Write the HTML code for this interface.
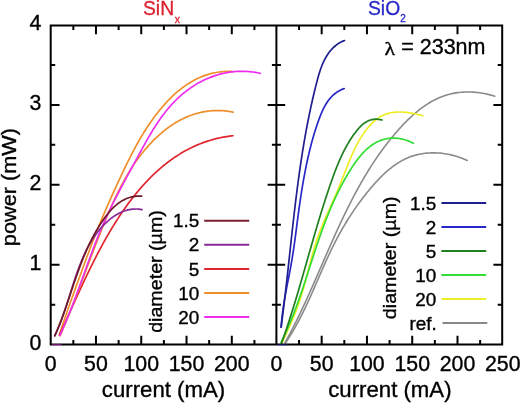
<!DOCTYPE html>
<html><head><meta charset="utf-8"><title>power vs current</title>
<style>html,body{margin:0;padding:0;background:#fff;width:520px;height:403px;overflow:hidden}svg{display:block}</style>
</head><body>
<svg width="520" height="403" viewBox="0 0 520 403">
<rect width="520" height="403" fill="#fff"/>
<g fill="none" stroke-linecap="round" stroke-linejoin="round">
<path d="M59.19 335.38 L59.64 333.95 L60.1 332.52 L60.56 331.09 L61.03 329.66 L61.49 328.23 L61.96 326.8 L62.44 325.37 L62.91 323.94 L63.39 322.52 L63.87 321.09 L64.36 319.66 L64.84 318.24 L65.33 316.81 L65.82 315.39 L66.31 313.96 L66.81 312.54 L67.3 311.11 L67.8 309.69 L68.3 308.26 L68.8 306.84 L69.31 305.41 L69.81 303.99 L70.32 302.57 L70.83 301.14 L71.34 299.72 L71.85 298.3 L72.36 296.87 L72.87 295.45 L73.39 294.03 L73.9 292.61 L74.42 291.18 L74.93 289.76 L75.45 288.34 L75.97 286.91 L76.48 285.49 L77 284.07 L77.52 282.65 L78.04 281.22 L78.56 279.8 L79.08 278.38 L79.6 276.95 L80.12 275.53 L80.64 274.11 L81.16 272.68 L81.68 271.26 L82.19 269.84 L82.71 268.41 L83.23 266.99 L83.75 265.56 L84.27 264.14 L84.8 262.72 L85.32 261.3 L85.84 259.87 L86.36 258.45 L86.89 257.03 L87.42 255.61 L87.94 254.19 L88.47 252.77 L89 251.35 L89.53 249.94 L90.06 248.52 L90.6 247.1 L91.14 245.69 L91.67 244.28 L92.21 242.86 L92.76 241.45 L93.3 240.04 L93.85 238.64 L94.4 237.23 L94.95 235.82 L95.5 234.42 L96.06 233.02 L96.62 231.62 L97.18 230.22 L97.75 228.82 L98.32 227.42 L98.89 226.02 L99.46 224.63 L100.03 223.24 L100.61 221.84 L101.19 220.45 L101.77 219.06 L102.36 217.67 L102.94 216.29 L103.53 214.9 L104.12 213.51 L104.71 212.13 L105.31 210.75 L105.91 209.36 L106.51 207.98 L107.11 206.6 L107.71 205.22 L108.32 203.84 L108.93 202.46 L109.54 201.08 L110.15 199.7 L110.76 198.32 L111.38 196.95 L112 195.57 L112.62 194.19 L113.24 192.82 L113.86 191.44 L114.49 190.07 L115.12 188.69 L115.74 187.32 L116.38 185.94 L117.01 184.57 L117.64 183.19 L118.28 181.82 L118.92 180.45 L119.56 179.07 L120.2 177.7 L120.84 176.32 L121.48 174.95 L122.13 173.58 L122.78 172.21 L123.43 170.83 L124.09 169.46 L124.74 168.09 L125.4 166.73 L126.07 165.36 L126.73 163.99 L127.4 162.63 L128.08 161.27 L128.75 159.91 L129.44 158.55 L130.12 157.19 L130.81 155.84 L131.51 154.49 L132.2 153.14 L132.91 151.79 L133.62 150.45 L134.33 149.11 L135.05 147.77 L135.78 146.44 L136.51 145.11 L137.24 143.78 L137.98 142.46 L138.73 141.14 L139.49 139.83 L140.25 138.52 L141.01 137.21 L141.79 135.91 L142.57 134.61 L143.36 133.32 L144.15 132.03 L144.95 130.75 L145.76 129.47 L146.58 128.2 L147.41 126.93 L148.24 125.67 L149.08 124.41 L149.94 123.17 L150.79 121.92 L151.66 120.68 L152.54 119.45 L153.43 118.23 L154.32 117.01 L155.22 115.8 L156.14 114.59 L157.06 113.4 L158 112.21 L158.94 111.02 L159.89 109.85 L160.86 108.68 L161.83 107.52 L162.82 106.37 L163.81 105.22 L164.82 104.09 L165.83 102.97 L166.86 101.86 L167.9 100.75 L168.95 99.67 L170.01 98.59 L171.08 97.53 L172.17 96.48 L173.26 95.44 L174.37 94.42 L175.48 93.41 L176.61 92.42 L177.75 91.44 L178.91 90.48 L180.07 89.54 L181.25 88.62 L182.43 87.71 L183.63 86.82 L184.84 85.95 L186.07 85.1 L187.3 84.27 L188.55 83.47 L189.81 82.68 L191.09 81.91 L192.37 81.17 L193.67 80.45 L194.98 79.75 L196.31 79.08 L197.64 78.43 L198.99 77.81 L200.36 77.21 L201.73 76.64 L203.12 76.1 L204.52 75.58 L205.94 75.09 L207.37 74.63 L208.81 74.19 L210.27 73.79 L211.74 73.41 L213.22 73.07 L214.71 72.75 L216.22 72.47 L217.74 72.22 L219.28 72 L220.83 71.81 L222.39 71.65 L223.96 71.53 L225.55 71.45 L227.15 71.39 L228.77 71.38 L230.4 71.4 L232.04 71.45" stroke="#ee8f2c" stroke-width="1.7"/>
<path d="M59.63 334.44 L60.23 333.16 L60.83 331.87 L61.42 330.58 L62.02 329.29 L62.62 327.99 L63.22 326.68 L63.82 325.37 L64.42 324.06 L65.02 322.75 L65.62 321.43 L66.22 320.1 L66.82 318.78 L67.43 317.45 L68.03 316.12 L68.64 314.78 L69.24 313.44 L69.85 312.1 L70.46 310.76 L71.07 309.41 L71.68 308.06 L72.29 306.71 L72.91 305.35 L73.52 304 L74.14 302.64 L74.76 301.28 L75.38 299.91 L76 298.55 L76.62 297.18 L77.25 295.81 L77.87 294.45 L78.5 293.07 L79.13 291.7 L79.77 290.33 L80.4 288.96 L81.04 287.58 L81.68 286.2 L82.32 284.83 L82.97 283.45 L83.61 282.07 L84.26 280.69 L84.91 279.31 L85.57 277.93 L86.23 276.55 L86.89 275.18 L87.55 273.8 L88.21 272.42 L88.88 271.04 L89.55 269.66 L90.23 268.28 L90.91 266.9 L91.59 265.53 L92.27 264.15 L92.96 262.78 L93.65 261.4 L94.34 260.03 L95.04 258.66 L95.74 257.29 L96.45 255.92 L97.15 254.55 L97.87 253.19 L98.58 251.82 L99.3 250.46 L100.03 249.1 L100.75 247.75 L101.49 246.39 L102.22 245.04 L102.96 243.69 L103.7 242.34 L104.45 240.99 L105.21 239.65 L105.96 238.31 L106.72 236.97 L107.49 235.64 L108.26 234.31 L109.04 232.98 L109.82 231.65 L110.6 230.33 L111.39 229.02 L112.18 227.7 L112.98 226.39 L113.79 225.09 L114.6 223.78 L115.41 222.49 L116.23 221.19 L117.06 219.9 L117.89 218.62 L118.72 217.34 L119.56 216.06 L120.41 214.79 L121.26 213.52 L122.12 212.26 L122.98 211.01 L123.85 209.75 L124.73 208.51 L125.61 207.27 L126.49 206.03 L127.39 204.8 L128.28 203.58 L129.19 202.36 L130.1 201.15 L131.02 199.94 L131.94 198.74 L132.87 197.55 L133.81 196.36 L134.75 195.18 L135.7 194 L136.65 192.84 L137.62 191.68 L138.58 190.52 L139.56 189.37 L140.54 188.23 L141.53 187.1 L142.53 185.97 L143.53 184.86 L144.54 183.75 L145.56 182.64 L146.59 181.55 L147.62 180.46 L148.66 179.38 L149.7 178.32 L150.76 177.25 L151.82 176.2 L152.89 175.16 L153.97 174.13 L155.05 173.1 L156.14 172.09 L157.24 171.09 L158.35 170.09 L159.47 169.11 L160.59 168.13 L161.72 167.17 L162.86 166.22 L164.01 165.28 L165.16 164.35 L166.33 163.43 L167.5 162.52 L168.68 161.62 L169.87 160.74 L171.07 159.86 L172.27 159 L173.49 158.15 L174.71 157.32 L175.94 156.49 L177.18 155.68 L178.43 154.88 L179.69 154.1 L180.96 153.32 L182.23 152.56 L183.52 151.82 L184.81 151.09 L186.12 150.37 L187.43 149.67 L188.75 148.98 L190.08 148.3 L191.42 147.64 L192.77 146.99 L194.13 146.36 L195.5 145.75 L196.88 145.15 L198.27 144.56 L199.67 143.99 L201.07 143.44 L202.49 142.9 L203.92 142.38 L205.36 141.87 L206.8 141.38 L208.26 140.91 L209.73 140.46 L211.21 140.02 L212.7 139.6 L214.19 139.19 L215.7 138.8 L217.22 138.43 L218.75 138.08 L220.29 137.75 L221.84 137.43 L223.4 137.14 L224.98 136.86 L226.56 136.6 L228.15 136.36 L229.76 136.14 L231.37 135.93 L233 135.75" stroke="#e0262e" stroke-width="1.7"/>
<path d="M60.17 335.54 L60.78 334.14 L61.38 332.73 L61.98 331.33 L62.58 329.92 L63.17 328.51 L63.76 327.11 L64.35 325.7 L64.94 324.3 L65.52 322.89 L66.1 321.49 L66.68 320.08 L67.25 318.67 L67.82 317.27 L68.39 315.86 L68.96 314.46 L69.53 313.05 L70.09 311.64 L70.65 310.24 L71.21 308.83 L71.76 307.43 L72.32 306.02 L72.87 304.61 L73.42 303.21 L73.97 301.8 L74.52 300.39 L75.06 298.99 L75.61 297.58 L76.15 296.18 L76.69 294.77 L77.23 293.36 L77.77 291.96 L78.31 290.55 L78.84 289.15 L79.38 287.74 L79.91 286.33 L80.45 284.93 L80.98 283.52 L81.51 282.11 L82.04 280.71 L82.58 279.3 L83.11 277.9 L83.64 276.49 L84.17 275.08 L84.7 273.68 L85.23 272.27 L85.76 270.87 L86.29 269.46 L86.82 268.05 L87.35 266.65 L87.88 265.24 L88.41 263.84 L88.94 262.43 L89.47 261.02 L90 259.62 L90.54 258.21 L91.07 256.81 L91.6 255.4 L92.14 253.99 L92.67 252.59 L93.21 251.18 L93.75 249.78 L94.29 248.37 L94.83 246.97 L95.37 245.56 L95.91 244.15 L96.46 242.75 L97.01 241.34 L97.55 239.94 L98.1 238.53 L98.65 237.13 L99.21 235.72 L99.76 234.32 L100.32 232.91 L100.88 231.51 L101.44 230.1 L102 228.69 L102.57 227.29 L103.14 225.88 L103.71 224.48 L104.28 223.07 L104.86 221.67 L105.43 220.27 L106.02 218.86 L106.6 217.46 L107.19 216.06 L107.78 214.66 L108.38 213.26 L108.98 211.86 L109.58 210.46 L110.19 209.06 L110.8 207.67 L111.42 206.28 L112.04 204.89 L112.66 203.5 L113.29 202.12 L113.93 200.73 L114.57 199.35 L115.22 197.98 L115.87 196.6 L116.53 195.23 L117.19 193.86 L117.86 192.5 L118.54 191.14 L119.22 189.78 L119.91 188.42 L120.61 187.07 L121.31 185.73 L122.02 184.39 L122.74 183.05 L123.47 181.72 L124.2 180.39 L124.94 179.07 L125.69 177.75 L126.44 176.44 L127.21 175.13 L127.98 173.83 L128.76 172.53 L129.55 171.24 L130.35 169.95 L131.16 168.68 L131.97 167.4 L132.8 166.14 L133.64 164.88 L134.48 163.62 L135.34 162.38 L136.2 161.14 L137.08 159.9 L137.96 158.68 L138.86 157.46 L139.77 156.25 L140.68 155.05 L141.61 153.85 L142.55 152.66 L143.5 151.48 L144.46 150.31 L145.44 149.15 L146.42 148 L147.42 146.85 L148.42 145.72 L149.44 144.6 L150.47 143.49 L151.51 142.38 L152.56 141.29 L153.62 140.22 L154.7 139.15 L155.78 138.1 L156.88 137.06 L157.99 136.03 L159.1 135.02 L160.23 134.02 L161.37 133.04 L162.52 132.07 L163.68 131.12 L164.85 130.19 L166.03 129.27 L167.23 128.36 L168.43 127.48 L169.65 126.61 L170.87 125.76 L172.11 124.93 L173.35 124.12 L174.61 123.33 L175.87 122.55 L177.15 121.8 L178.44 121.07 L179.74 120.36 L181.05 119.67 L182.36 119 L183.69 118.35 L185.03 117.73 L186.38 117.13 L187.74 116.55 L189.11 116 L190.49 115.47 L191.88 114.96 L193.28 114.48 L194.69 114.03 L196.11 113.6 L197.54 113.2 L198.98 112.82 L200.43 112.47 L201.89 112.15 L203.36 111.86 L204.84 111.59 L206.33 111.36 L207.83 111.15 L209.34 110.97 L210.86 110.82 L212.38 110.71 L213.92 110.62 L215.47 110.56 L217.03 110.54 L218.59 110.55 L220.17 110.59 L221.75 110.66 L223.35 110.77 L224.95 110.9 L226.57 111.08 L228.19 111.29 L229.82 111.53 L231.46 111.81 L233.11 112.12" stroke="#ee8f2c" stroke-width="1.7"/>
<path d="M59.82 335.43 L60.46 334.07 L61.09 332.7 L61.71 331.34 L62.33 329.97 L62.94 328.6 L63.55 327.22 L64.15 325.85 L64.74 324.47 L65.34 323.08 L65.92 321.7 L66.5 320.31 L67.08 318.92 L67.66 317.53 L68.23 316.14 L68.79 314.74 L69.35 313.34 L69.91 311.94 L70.47 310.54 L71.02 309.14 L71.56 307.73 L72.11 306.32 L72.65 304.92 L73.19 303.51 L73.73 302.09 L74.26 300.68 L74.79 299.27 L75.32 297.85 L75.84 296.43 L76.37 295.02 L76.89 293.6 L77.41 292.18 L77.93 290.76 L78.45 289.34 L78.96 287.92 L79.48 286.49 L79.99 285.07 L80.51 283.65 L81.02 282.22 L81.53 280.8 L82.04 279.37 L82.55 277.95 L83.06 276.53 L83.57 275.1 L84.09 273.68 L84.6 272.25 L85.11 270.83 L85.62 269.4 L86.13 267.98 L86.64 266.56 L87.16 265.13 L87.67 263.71 L88.19 262.29 L88.71 260.87 L89.23 259.45 L89.75 258.03 L90.27 256.61 L90.79 255.2 L91.32 253.78 L91.85 252.36 L92.38 250.95 L92.91 249.54 L93.45 248.13 L93.99 246.72 L94.53 245.31 L95.08 243.91 L95.62 242.5 L96.17 241.1 L96.73 239.7 L97.29 238.3 L97.85 236.9 L98.42 235.51 L98.98 234.11 L99.56 232.72 L100.14 231.34 L100.72 229.95 L101.31 228.57 L101.9 227.19 L102.5 225.81 L103.1 224.43 L103.7 223.06 L104.32 221.69 L104.93 220.32 L105.55 218.95 L106.18 217.59 L106.81 216.23 L107.45 214.87 L108.09 213.52 L108.73 212.16 L109.38 210.81 L110.03 209.46 L110.68 208.11 L111.34 206.76 L112 205.42 L112.67 204.07 L113.34 202.73 L114.01 201.39 L114.69 200.05 L115.37 198.71 L116.05 197.38 L116.74 196.04 L117.42 194.7 L118.12 193.37 L118.81 192.04 L119.51 190.71 L120.2 189.37 L120.9 188.04 L121.61 186.71 L122.31 185.38 L123.02 184.05 L123.73 182.72 L124.44 181.39 L125.15 180.07 L125.87 178.74 L126.58 177.41 L127.3 176.08 L128.02 174.75 L128.74 173.42 L129.46 172.09 L130.18 170.76 L130.9 169.43 L131.62 168.1 L132.35 166.77 L133.07 165.44 L133.79 164.1 L134.52 162.77 L135.24 161.44 L135.97 160.1 L136.69 158.76 L137.42 157.43 L138.14 156.09 L138.87 154.75 L139.59 153.41 L140.32 152.07 L141.05 150.73 L141.78 149.39 L142.51 148.05 L143.25 146.72 L143.99 145.38 L144.73 144.05 L145.47 142.72 L146.22 141.39 L146.97 140.07 L147.73 138.74 L148.49 137.43 L149.25 136.11 L150.02 134.8 L150.8 133.49 L151.58 132.19 L152.37 130.9 L153.16 129.6 L153.97 128.32 L154.77 127.04 L155.59 125.77 L156.41 124.5 L157.25 123.24 L158.09 121.99 L158.94 120.74 L159.79 119.51 L160.66 118.28 L161.54 117.06 L162.42 115.84 L163.32 114.64 L164.23 113.45 L165.15 112.27 L166.08 111.09 L167.02 109.93 L167.97 108.78 L168.94 107.64 L169.91 106.51 L170.9 105.39 L171.91 104.28 L172.93 103.19 L173.96 102.1 L175 101.03 L176.06 99.98 L177.13 98.94 L178.22 97.91 L179.32 96.89 L180.44 95.89 L181.57 94.91 L182.71 93.94 L183.86 92.98 L185.03 92.04 L186.21 91.12 L187.41 90.22 L188.61 89.33 L189.83 88.45 L191.07 87.6 L192.31 86.76 L193.56 85.95 L194.83 85.15 L196.11 84.37 L197.4 83.6 L198.7 82.86 L200.01 82.14 L201.34 81.44 L202.67 80.76 L204.02 80.1 L205.37 79.46 L206.74 78.84 L208.11 78.25 L209.5 77.68 L210.89 77.13 L212.3 76.6 L213.71 76.09 L215.13 75.61 L216.57 75.16 L218.01 74.73 L219.46 74.32 L220.91 73.94 L222.38 73.58 L223.85 73.24 L225.32 72.94 L226.81 72.65 L228.3 72.4 L229.79 72.17 L231.29 71.96 L232.8 71.79 L234.3 71.64 L235.82 71.51 L237.33 71.41 L238.85 71.34 L240.37 71.3 L241.9 71.29 L243.42 71.3 L244.95 71.35 L246.48 71.42 L248.01 71.52 L249.54 71.65 L251.07 71.8 L252.6 71.99 L254.13 72.21 L255.65 72.46 L257.18 72.73 L258.7 73.04 L260.22 73.38" stroke="#ee2eee" stroke-width="1.7"/>
<path d="M54.78 335.64 L55.4 334.38 L56.01 333.1 L56.61 331.81 L57.19 330.5 L57.77 329.19 L58.34 327.86 L58.9 326.52 L59.45 325.17 L59.99 323.82 L60.53 322.45 L61.05 321.07 L61.57 319.68 L62.09 318.29 L62.59 316.89 L63.09 315.48 L63.59 314.06 L64.08 312.63 L64.57 311.2 L65.05 309.76 L65.53 308.32 L66 306.87 L66.47 305.41 L66.94 303.95 L67.41 302.49 L67.88 301.02 L68.34 299.55 L68.8 298.08 L69.27 296.6 L69.73 295.12 L70.19 293.64 L70.66 292.16 L71.12 290.67 L71.59 289.19 L72.06 287.7 L72.53 286.22 L73.01 284.73 L73.49 283.25 L73.97 281.77 L74.45 280.29 L74.94 278.81 L75.44 277.33 L75.94 275.86 L76.45 274.39 L76.96 272.92 L77.48 271.46 L78 270 L78.54 268.54 L79.08 267.09 L79.63 265.65 L80.19 264.21 L80.75 262.78 L81.33 261.35 L81.92 259.93 L82.51 258.52 L83.12 257.12 L83.74 255.73 L84.37 254.34 L85.01 252.96 L85.67 251.59 L86.33 250.24 L87.02 248.89 L87.71 247.55 L88.42 246.22 L89.14 244.91 L89.88 243.61 L90.63 242.31 L91.4 241.04 L92.19 239.77 L92.99 238.52 L93.8 237.28 L94.64 236.05 L95.49 234.84 L96.37 233.65 L97.26 232.47 L98.16 231.3 L99.09 230.15 L100.04 229.02 L101.01 227.9 L102 226.8 L103.01 225.72 L104.04 224.66 L105.09 223.62 L106.17 222.59 L107.27 221.58 L108.39 220.6 L109.53 219.63 L110.7 218.69 L111.89 217.78 L113.1 216.9 L114.34 216.06 L115.6 215.24 L116.88 214.47 L118.18 213.74 L119.51 213.05 L120.85 212.4 L122.22 211.8 L123.62 211.26 L125.03 210.76 L126.47 210.32 L127.93 209.94 L129.41 209.62 L130.91 209.37 L132.43 209.18 L133.98 209.05 L135.55 209 L137.14 209.02 L138.75 209.12 L140.38 209.29 L142.04 209.55" stroke="#8a2a9a" stroke-width="1.7"/>
<path d="M54.74 335.8 L55.33 334.46 L55.92 333.12 L56.51 331.76 L57.08 330.41 L57.65 329.04 L58.22 327.67 L58.77 326.3 L59.32 324.91 L59.87 323.53 L60.41 322.13 L60.95 320.74 L61.48 319.33 L62 317.93 L62.53 316.52 L63.04 315.1 L63.56 313.68 L64.07 312.26 L64.58 310.83 L65.08 309.4 L65.59 307.97 L66.09 306.53 L66.58 305.09 L67.08 303.65 L67.57 302.2 L68.07 300.76 L68.56 299.31 L69.05 297.86 L69.54 296.4 L70.03 294.95 L70.52 293.49 L71.01 292.04 L71.5 290.58 L72 289.12 L72.49 287.67 L72.98 286.21 L73.48 284.75 L73.97 283.29 L74.47 281.83 L74.98 280.37 L75.48 278.92 L75.99 277.46 L76.5 276.01 L77.01 274.55 L77.53 273.1 L78.05 271.65 L78.57 270.2 L79.1 268.76 L79.64 267.31 L80.18 265.87 L80.72 264.43 L81.27 263 L81.83 261.57 L82.39 260.14 L82.95 258.71 L83.53 257.29 L84.11 255.87 L84.7 254.46 L85.29 253.05 L85.9 251.64 L86.51 250.24 L87.12 248.84 L87.75 247.45 L88.39 246.07 L89.03 244.69 L89.68 243.31 L90.35 241.94 L91.02 240.58 L91.7 239.23 L92.39 237.88 L93.1 236.53 L93.81 235.2 L94.53 233.87 L95.27 232.55 L96.02 231.23 L96.78 229.92 L97.55 228.62 L98.33 227.33 L99.12 226.05 L99.93 224.78 L100.75 223.51 L101.59 222.25 L102.44 221.01 L103.3 219.77 L104.17 218.54 L105.06 217.32 L105.97 216.11 L106.89 214.91 L107.83 213.73 L108.78 212.57 L109.76 211.43 L110.75 210.3 L111.77 209.21 L112.81 208.14 L113.87 207.1 L114.96 206.09 L116.07 205.12 L117.21 204.18 L118.38 203.28 L119.57 202.42 L120.8 201.61 L122.05 200.84 L123.34 200.12 L124.66 199.44 L126.02 198.83 L127.41 198.26 L128.83 197.76 L130.29 197.31 L131.8 196.93 L133.34 196.61 L134.92 196.36 L136.54 196.18 L138.21 196.07 L139.91 196.03 L141.67 196.07" stroke="#6e1a28" stroke-width="1.7"/>
<path d="M285.45 343 L286.3 341.74 L287.14 340.47 L287.97 339.2 L288.8 337.92 L289.61 336.64 L290.41 335.35 L291.2 334.06 L291.98 332.77 L292.76 331.47 L293.52 330.16 L294.28 328.85 L295.02 327.54 L295.76 326.22 L296.5 324.9 L297.22 323.58 L297.94 322.25 L298.65 320.92 L299.35 319.58 L300.04 318.24 L300.73 316.9 L301.42 315.56 L302.09 314.21 L302.76 312.86 L303.43 311.5 L304.09 310.15 L304.75 308.79 L305.4 307.43 L306.04 306.06 L306.68 304.7 L307.32 303.33 L307.95 301.96 L308.58 300.59 L309.21 299.21 L309.83 297.84 L310.45 296.46 L311.06 295.08 L311.68 293.71 L312.29 292.33 L312.9 290.95 L313.51 289.56 L314.11 288.18 L314.72 286.8 L315.32 285.42 L315.92 284.03 L316.52 282.65 L317.13 281.26 L317.73 279.88 L318.33 278.5 L318.93 277.11 L319.53 275.73 L320.13 274.35 L320.73 272.96 L321.34 271.58 L321.94 270.2 L322.55 268.82 L323.16 267.44 L323.77 266.07 L324.38 264.69 L325 263.32 L325.61 261.94 L326.23 260.57 L326.86 259.2 L327.49 257.83 L328.12 256.47 L328.75 255.11 L329.39 253.74 L330.03 252.39 L330.68 251.03 L331.33 249.68 L331.99 248.32 L332.65 246.98 L333.32 245.63 L334 244.29 L334.68 242.95 L335.36 241.62 L336.05 240.28 L336.75 238.95 L337.45 237.63 L338.16 236.31 L338.88 234.99 L339.6 233.67 L340.33 232.36 L341.06 231.05 L341.8 229.74 L342.55 228.44 L343.31 227.14 L344.07 225.85 L344.83 224.56 L345.61 223.27 L346.39 221.99 L347.17 220.71 L347.96 219.43 L348.77 218.16 L349.57 216.89 L350.39 215.62 L351.21 214.36 L352.03 213.1 L352.87 211.85 L353.71 210.6 L354.56 209.35 L355.42 208.11 L356.28 206.87 L357.15 205.63 L358.03 204.4 L358.92 203.18 L359.81 201.96 L360.71 200.74 L361.62 199.52 L362.54 198.31 L363.46 197.11 L364.4 195.91 L365.34 194.71 L366.28 193.52 L367.24 192.33 L368.2 191.14 L369.18 189.96 L370.16 188.79 L371.15 187.62 L372.14 186.45 L373.15 185.29 L374.16 184.14 L375.19 183 L376.22 181.86 L377.26 180.74 L378.31 179.62 L379.37 178.52 L380.44 177.43 L381.52 176.35 L382.61 175.29 L383.71 174.24 L384.82 173.21 L385.94 172.19 L387.08 171.19 L388.22 170.21 L389.37 169.24 L390.54 168.3 L391.72 167.38 L392.91 166.48 L394.11 165.6 L395.32 164.75 L396.55 163.91 L397.78 163.11 L399.03 162.33 L400.3 161.57 L401.57 160.85 L402.86 160.15 L404.16 159.48 L405.48 158.84 L406.81 158.23 L408.15 157.66 L409.51 157.11 L410.88 156.6 L412.26 156.13 L413.66 155.68 L415.07 155.27 L416.49 154.89 L417.92 154.55 L419.36 154.23 L420.81 153.95 L422.27 153.7 L423.74 153.49 L425.22 153.3 L426.7 153.15 L428.2 153.03 L429.69 152.94 L431.19 152.88 L432.7 152.85 L434.21 152.85 L435.72 152.89 L437.24 152.95 L438.76 153.04 L440.28 153.17 L441.8 153.32 L443.32 153.51 L444.84 153.72 L446.36 153.97 L447.88 154.24 L449.39 154.55 L450.9 154.88 L452.41 155.24 L453.91 155.63 L455.41 156.05 L456.91 156.5 L458.39 156.98 L459.88 157.48 L461.35 158.02 L462.81 158.58 L464.27 159.17 L465.72 159.78 L467.15 160.43" stroke="#8a8a8a" stroke-width="1.6"/>
<path d="M285.01 342.77 L285.73 341.47 L286.45 340.16 L287.16 338.85 L287.87 337.54 L288.57 336.23 L289.27 334.91 L289.97 333.59 L290.66 332.27 L291.35 330.95 L292.03 329.62 L292.72 328.29 L293.4 326.96 L294.07 325.62 L294.74 324.28 L295.41 322.94 L296.08 321.6 L296.74 320.26 L297.4 318.91 L298.06 317.56 L298.71 316.21 L299.36 314.86 L300.01 313.51 L300.66 312.15 L301.3 310.79 L301.95 309.43 L302.59 308.07 L303.22 306.71 L303.86 305.34 L304.49 303.98 L305.12 302.61 L305.75 301.24 L306.38 299.87 L307.01 298.49 L307.63 297.12 L308.25 295.74 L308.87 294.37 L309.49 292.99 L310.11 291.61 L310.73 290.23 L311.34 288.85 L311.96 287.46 L312.57 286.08 L313.18 284.7 L313.79 283.31 L314.4 281.92 L315.01 280.54 L315.62 279.15 L316.23 277.76 L316.84 276.37 L317.44 274.98 L318.05 273.59 L318.65 272.2 L319.26 270.81 L319.87 269.42 L320.47 268.03 L321.08 266.64 L321.68 265.25 L322.29 263.85 L322.89 262.46 L323.5 261.07 L324.11 259.68 L324.71 258.28 L325.32 256.89 L325.93 255.5 L326.54 254.11 L327.14 252.72 L327.75 251.32 L328.36 249.93 L328.98 248.54 L329.59 247.15 L330.2 245.76 L330.82 244.37 L331.43 242.98 L332.05 241.6 L332.67 240.21 L333.29 238.82 L333.91 237.44 L334.53 236.05 L335.16 234.67 L335.78 233.28 L336.41 231.9 L337.04 230.52 L337.67 229.14 L338.31 227.76 L338.94 226.38 L339.58 225.01 L340.22 223.63 L340.87 222.26 L341.51 220.89 L342.16 219.52 L342.81 218.15 L343.46 216.78 L344.12 215.41 L344.78 214.05 L345.44 212.69 L346.1 211.32 L346.77 209.96 L347.44 208.61 L348.11 207.25 L348.79 205.9 L349.47 204.55 L350.15 203.2 L350.84 201.85 L351.53 200.5 L352.23 199.16 L352.92 197.82 L353.62 196.48 L354.33 195.14 L355.04 193.81 L355.75 192.48 L356.47 191.15 L357.19 189.82 L357.92 188.5 L358.65 187.18 L359.38 185.86 L360.12 184.54 L360.86 183.23 L361.61 181.92 L362.36 180.61 L363.12 179.31 L363.88 178.01 L364.65 176.71 L365.42 175.42 L366.2 174.12 L366.98 172.84 L367.76 171.55 L368.56 170.27 L369.35 168.99 L370.16 167.71 L370.97 166.44 L371.78 165.17 L372.6 163.91 L373.42 162.65 L374.25 161.39 L375.09 160.14 L375.93 158.89 L376.78 157.64 L377.64 156.4 L378.5 155.16 L379.37 153.93 L380.24 152.7 L381.12 151.47 L382.01 150.25 L382.9 149.03 L383.8 147.82 L384.7 146.61 L385.62 145.4 L386.54 144.2 L387.46 143 L388.4 141.81 L389.34 140.63 L390.28 139.44 L391.24 138.26 L392.2 137.09 L393.17 135.92 L394.15 134.76 L395.13 133.6 L396.12 132.44 L397.12 131.3 L398.13 130.15 L399.14 129.01 L400.17 127.88 L401.2 126.75 L402.24 125.63 L403.28 124.52 L404.34 123.42 L405.4 122.33 L406.48 121.25 L407.56 120.17 L408.65 119.11 L409.75 118.06 L410.85 117.02 L411.97 116 L413.1 114.98 L414.23 113.98 L415.38 113 L416.53 112.03 L417.69 111.08 L418.87 110.14 L420.05 109.22 L421.24 108.31 L422.45 107.43 L423.66 106.56 L424.88 105.71 L426.12 104.89 L427.36 104.08 L428.62 103.29 L429.88 102.53 L431.16 101.79 L432.45 101.07 L433.75 100.37 L435.06 99.7 L436.38 99.05 L437.71 98.42 L439.05 97.83 L440.41 97.26 L441.77 96.71 L443.15 96.19 L444.54 95.71 L445.94 95.24 L447.36 94.81 L448.78 94.41 L450.22 94.04 L451.67 93.7 L453.13 93.39 L454.61 93.12 L456.09 92.87 L457.59 92.65 L459.09 92.47 L460.6 92.31 L462.12 92.19 L463.65 92.09 L465.19 92.03 L466.73 91.99 L468.28 91.99 L469.83 92.01 L471.38 92.06 L472.94 92.14 L474.5 92.25 L476.07 92.38 L477.63 92.55 L479.2 92.74 L480.76 92.96 L482.33 93.21 L483.89 93.48 L485.45 93.79 L487.01 94.11 L488.56 94.47 L490.11 94.85 L491.66 95.26 L493.2 95.69 L494.74 96.15" stroke="#8a8a8a" stroke-width="1.6"/>
<path d="M281.99 343 L282.63 341.61 L283.28 340.23 L283.92 338.84 L284.55 337.46 L285.19 336.08 L285.82 334.7 L286.45 333.32 L287.08 331.94 L287.7 330.57 L288.32 329.19 L288.93 327.81 L289.54 326.43 L290.15 325.05 L290.75 323.67 L291.34 322.29 L291.93 320.91 L292.52 319.52 L293.1 318.13 L293.67 316.75 L294.24 315.36 L294.8 313.96 L295.35 312.57 L295.89 311.17 L296.43 309.77 L296.96 308.36 L297.48 306.95 L298 305.54 L298.5 304.12 L299 302.7 L299.49 301.27 L299.97 299.84 L300.44 298.41 L300.9 296.97 L301.35 295.52 L301.79 294.07 L302.23 292.62 L302.66 291.17 L303.08 289.71 L303.5 288.24 L303.91 286.78 L304.31 285.31 L304.71 283.84 L305.11 282.36 L305.5 280.89 L305.89 279.41 L306.28 277.94 L306.66 276.46 L307.05 274.98 L307.43 273.5 L307.81 272.02 L308.19 270.54 L308.57 269.05 L308.95 267.57 L309.33 266.1 L309.71 264.62 L310.09 263.14 L310.48 261.66 L310.87 260.19 L311.26 258.72 L311.66 257.25 L312.06 255.78 L312.46 254.32 L312.88 252.86 L313.29 251.4 L313.71 249.94 L314.14 248.49 L314.58 247.05 L315.02 245.6 L315.47 244.17 L315.93 242.73 L316.4 241.31 L316.87 239.88 L317.36 238.47 L317.86 237.05 L318.36 235.65 L318.88 234.25 L319.4 232.85 L319.93 231.46 L320.47 230.07 L321.02 228.68 L321.57 227.3 L322.13 225.92 L322.69 224.54 L323.27 223.17 L323.84 221.8 L324.42 220.43 L325.01 219.06 L325.6 217.7 L326.19 216.33 L326.79 214.97 L327.39 213.6 L328 212.24 L328.6 210.88 L329.21 209.51 L329.82 208.15 L330.43 206.78 L331.04 205.42 L331.66 204.05 L332.27 202.68 L332.88 201.31 L333.49 199.94 L334.1 198.56 L334.71 197.18 L335.32 195.8 L335.92 194.41 L336.53 193.02 L337.13 191.63 L337.72 190.23 L338.32 188.83 L338.9 187.42 L339.49 186.01 L340.07 184.6 L340.64 183.17 L341.21 181.75 L341.78 180.31 L342.34 178.88 L342.91 177.44 L343.47 176 L344.03 174.56 L344.59 173.11 L345.15 171.67 L345.71 170.23 L346.27 168.78 L346.84 167.34 L347.4 165.9 L347.98 164.46 L348.55 163.03 L349.13 161.59 L349.72 160.17 L350.32 158.74 L350.92 157.32 L351.52 155.91 L352.14 154.51 L352.77 153.11 L353.4 151.72 L354.05 150.33 L354.7 148.96 L355.37 147.6 L356.05 146.24 L356.74 144.9 L357.45 143.56 L358.17 142.24 L358.91 140.94 L359.66 139.64 L360.43 138.36 L361.21 137.09 L362.01 135.84 L362.83 134.6 L363.67 133.38 L364.53 132.17 L365.41 130.98 L366.3 129.81 L367.23 128.66 L368.17 127.53 L369.13 126.41 L370.12 125.32 L371.13 124.24 L372.17 123.2 L373.23 122.17 L374.32 121.18 L375.44 120.23 L376.58 119.31 L377.75 118.44 L378.96 117.61 L380.19 116.84 L381.45 116.11 L382.74 115.44 L384.07 114.84 L385.42 114.29 L386.81 113.81 L388.23 113.39 L389.67 113.02 L391.13 112.72 L392.62 112.47 L394.12 112.28 L395.65 112.13 L397.18 112.04 L398.73 112 L400.29 112.01 L401.85 112.06 L403.42 112.16 L404.99 112.29 L406.55 112.46 L408.11 112.66 L409.67 112.89 L411.21 113.14 L412.74 113.42 L414.25 113.72 L415.74 114.04 L417.21 114.37 L418.65 114.7 L420.06 115.05 L421.45 115.4 L422.79 115.75" stroke="#eded28" stroke-width="1.7"/>
<path d="M281.04 342.37 L281.72 341 L282.4 339.63 L283.06 338.25 L283.72 336.87 L284.37 335.49 L285.01 334.11 L285.65 332.72 L286.27 331.33 L286.9 329.94 L287.51 328.55 L288.12 327.15 L288.72 325.75 L289.32 324.35 L289.9 322.95 L290.49 321.54 L291.06 320.14 L291.64 318.73 L292.2 317.32 L292.76 315.91 L293.32 314.49 L293.87 313.08 L294.41 311.66 L294.95 310.24 L295.49 308.82 L296.02 307.4 L296.55 305.98 L297.07 304.55 L297.59 303.12 L298.1 301.7 L298.62 300.27 L299.12 298.84 L299.63 297.41 L300.13 295.98 L300.63 294.54 L301.12 293.11 L301.61 291.67 L302.1 290.24 L302.59 288.8 L303.07 287.36 L303.55 285.93 L304.04 284.49 L304.51 283.05 L304.99 281.61 L305.46 280.17 L305.94 278.73 L306.41 277.29 L306.88 275.84 L307.35 274.4 L307.82 272.96 L308.29 271.52 L308.75 270.08 L309.22 268.63 L309.69 267.19 L310.16 265.75 L310.62 264.31 L311.09 262.87 L311.56 261.42 L312.02 259.98 L312.49 258.54 L312.96 257.1 L313.43 255.66 L313.9 254.22 L314.38 252.78 L314.85 251.34 L315.32 249.9 L315.8 248.47 L316.28 247.03 L316.76 245.59 L317.24 244.16 L317.73 242.72 L318.22 241.29 L318.71 239.86 L319.2 238.43 L319.7 237 L320.2 235.57 L320.7 234.14 L321.2 232.72 L321.71 231.29 L322.23 229.87 L322.74 228.45 L323.26 227.03 L323.79 225.61 L324.32 224.19 L324.85 222.77 L325.39 221.36 L325.93 219.95 L326.48 218.54 L327.03 217.13 L327.59 215.72 L328.15 214.32 L328.72 212.91 L329.29 211.51 L329.87 210.12 L330.46 208.72 L331.05 207.33 L331.65 205.93 L332.25 204.54 L332.86 203.16 L333.48 201.77 L334.11 200.39 L334.74 199.01 L335.37 197.64 L336.02 196.26 L336.67 194.89 L337.33 193.52 L338 192.16 L338.68 190.79 L339.36 189.43 L340.06 188.08 L340.76 186.72 L341.47 185.37 L342.18 184.03 L342.91 182.68 L343.65 181.34 L344.39 180 L345.14 178.67 L345.91 177.34 L346.68 176.01 L347.46 174.69 L348.25 173.37 L349.06 172.05 L349.87 170.74 L350.69 169.43 L351.52 168.13 L352.37 166.83 L353.23 165.54 L354.09 164.26 L354.97 162.99 L355.87 161.73 L356.78 160.49 L357.7 159.26 L358.64 158.05 L359.59 156.86 L360.56 155.69 L361.54 154.55 L362.55 153.42 L363.56 152.33 L364.6 151.26 L365.66 150.22 L366.74 149.22 L367.83 148.24 L368.95 147.3 L370.08 146.4 L371.24 145.53 L372.42 144.7 L373.62 143.92 L374.85 143.18 L376.1 142.48 L377.37 141.82 L378.67 141.22 L379.99 140.66 L381.34 140.16 L382.71 139.71 L384.11 139.31 L385.54 138.97 L386.99 138.68 L388.46 138.45 L389.96 138.28 L391.47 138.17 L392.99 138.12 L394.53 138.13 L396.08 138.2 L397.64 138.33 L399.21 138.53 L400.78 138.79 L402.36 139.12 L403.93 139.51 L405.5 139.97 L407.07 140.49 L408.64 141.08 L410.2 141.74 L411.74 142.48 L413.28 143.28" stroke="#33dd33" stroke-width="1.7"/>
<path d="M281.49 343.27 L282 341.83 L282.51 340.4 L283.02 338.96 L283.52 337.52 L284.02 336.09 L284.51 334.65 L285.01 333.21 L285.5 331.78 L285.98 330.34 L286.47 328.9 L286.95 327.46 L287.43 326.02 L287.9 324.58 L288.37 323.14 L288.84 321.7 L289.31 320.26 L289.78 318.82 L290.24 317.38 L290.7 315.94 L291.15 314.5 L291.61 313.05 L292.06 311.61 L292.51 310.17 L292.96 308.72 L293.41 307.28 L293.85 305.84 L294.3 304.39 L294.74 302.95 L295.18 301.51 L295.61 300.06 L296.05 298.62 L296.48 297.17 L296.91 295.73 L297.35 294.28 L297.78 292.83 L298.2 291.39 L298.63 289.94 L299.06 288.5 L299.48 287.05 L299.9 285.6 L300.32 284.16 L300.75 282.71 L301.17 281.26 L301.59 279.81 L302 278.37 L302.42 276.92 L302.84 275.47 L303.25 274.03 L303.67 272.58 L304.09 271.13 L304.5 269.68 L304.91 268.23 L305.33 266.79 L305.74 265.34 L306.16 263.89 L306.57 262.44 L306.98 260.99 L307.39 259.55 L307.81 258.1 L308.22 256.65 L308.63 255.2 L309.05 253.75 L309.46 252.31 L309.88 250.86 L310.29 249.41 L310.71 247.96 L311.12 246.51 L311.54 245.07 L311.95 243.62 L312.37 242.17 L312.79 240.72 L313.21 239.28 L313.63 237.83 L314.05 236.38 L314.47 234.93 L314.89 233.49 L315.32 232.04 L315.74 230.59 L316.17 229.15 L316.6 227.7 L317.03 226.25 L317.46 224.81 L317.89 223.36 L318.32 221.92 L318.76 220.47 L319.19 219.02 L319.63 217.58 L320.07 216.13 L320.51 214.69 L320.96 213.24 L321.4 211.8 L321.85 210.36 L322.3 208.91 L322.75 207.47 L323.21 206.03 L323.67 204.58 L324.12 203.14 L324.59 201.7 L325.05 200.26 L325.52 198.81 L325.99 197.37 L326.46 195.93 L326.93 194.49 L327.41 193.05 L327.89 191.61 L328.37 190.17 L328.86 188.73 L329.35 187.29 L329.84 185.85 L330.33 184.41 L330.83 182.98 L331.33 181.54 L331.84 180.1 L332.35 178.67 L332.86 177.24 L333.38 175.8 L333.91 174.37 L334.44 172.95 L334.98 171.52 L335.52 170.1 L336.07 168.69 L336.63 167.27 L337.2 165.86 L337.77 164.46 L338.35 163.06 L338.95 161.67 L339.55 160.28 L340.16 158.89 L340.78 157.51 L341.41 156.14 L342.06 154.78 L342.71 153.42 L343.38 152.07 L344.06 150.73 L344.75 149.39 L345.45 148.06 L346.17 146.75 L346.9 145.44 L347.65 144.14 L348.4 142.85 L349.18 141.56 L349.97 140.29 L350.77 139.03 L351.6 137.78 L352.43 136.54 L353.29 135.32 L354.16 134.1 L355.05 132.89 L355.96 131.7 L356.88 130.52 L357.83 129.37 L358.8 128.23 L359.8 127.14 L360.83 126.08 L361.9 125.07 L363 124.12 L364.14 123.23 L365.32 122.41 L366.56 121.66 L367.84 121 L369.17 120.43 L370.56 119.96 L372 119.59 L373.51 119.34 L375.08 119.21 L376.72 119.2 L378.44 119.33 L380.22 119.59 L382.09 120.01" stroke="#1f801f" stroke-width="1.7"/>
<path d="M281.18 327.1 L281.27 325.58 L281.38 324.06 L281.5 322.55 L281.63 321.04 L281.77 319.53 L281.92 318.02 L282.09 316.51 L282.26 315.01 L282.44 313.5 L282.63 312 L282.83 310.5 L283.04 309 L283.26 307.51 L283.48 306.01 L283.71 304.52 L283.95 303.02 L284.19 301.53 L284.44 300.04 L284.7 298.55 L284.96 297.06 L285.22 295.57 L285.49 294.08 L285.77 292.59 L286.04 291.11 L286.32 289.62 L286.6 288.13 L286.89 286.65 L287.18 285.16 L287.46 283.67 L287.75 282.19 L288.04 280.7 L288.33 279.22 L288.62 277.73 L288.91 276.24 L289.2 274.76 L289.48 273.27 L289.77 271.78 L290.05 270.3 L290.33 268.81 L290.61 267.32 L290.88 265.83 L291.15 264.34 L291.41 262.84 L291.67 261.35 L291.93 259.86 L292.18 258.36 L292.42 256.87 L292.66 255.37 L292.9 253.87 L293.13 252.37 L293.36 250.87 L293.58 249.37 L293.8 247.87 L294.01 246.37 L294.23 244.87 L294.44 243.36 L294.64 241.86 L294.85 240.36 L295.05 238.85 L295.25 237.35 L295.45 235.84 L295.65 234.34 L295.84 232.83 L296.04 231.33 L296.23 229.83 L296.43 228.32 L296.62 226.82 L296.81 225.31 L297.01 223.81 L297.2 222.31 L297.4 220.8 L297.6 219.3 L297.79 217.8 L297.99 216.3 L298.19 214.8 L298.4 213.3 L298.6 211.8 L298.81 210.3 L299.01 208.81 L299.22 207.31 L299.44 205.81 L299.65 204.32 L299.87 202.82 L300.08 201.33 L300.3 199.83 L300.53 198.34 L300.75 196.85 L300.98 195.36 L301.21 193.86 L301.45 192.37 L301.68 190.88 L301.92 189.39 L302.17 187.91 L302.41 186.42 L302.66 184.93 L302.92 183.44 L303.17 181.96 L303.43 180.47 L303.7 178.99 L303.97 177.5 L304.24 176.02 L304.51 174.53 L304.79 173.05 L305.08 171.57 L305.36 170.09 L305.66 168.61 L305.95 167.13 L306.26 165.65 L306.56 164.17 L306.87 162.69 L307.19 161.22 L307.51 159.74 L307.84 158.27 L308.17 156.79 L308.5 155.32 L308.85 153.84 L309.19 152.37 L309.55 150.9 L309.91 149.43 L310.28 147.96 L310.65 146.49 L311.03 145.03 L311.42 143.56 L311.81 142.09 L312.21 140.63 L312.62 139.17 L313.03 137.71 L313.46 136.25 L313.89 134.79 L314.33 133.33 L314.77 131.87 L315.23 130.42 L315.69 128.96 L316.16 127.51 L316.64 126.06 L317.13 124.61 L317.63 123.16 L318.14 121.71 L318.65 120.26 L319.18 118.82 L319.72 117.38 L320.27 115.95 L320.84 114.53 L321.43 113.12 L322.03 111.72 L322.66 110.34 L323.31 108.97 L323.99 107.62 L324.69 106.3 L325.43 105 L326.19 103.72 L326.99 102.48 L327.82 101.26 L328.69 100.07 L329.6 98.92 L330.55 97.81 L331.54 96.73 L332.57 95.7 L333.65 94.7 L334.78 93.75 L335.96 92.85 L337.19 92 L338.47 91.2 L339.81 90.45 L341.21 89.75 L342.66 89.12 L344.18 88.54" stroke="#2828c8" stroke-width="1.7"/>
<path d="M281.09 327.15 L281.29 325.64 L281.49 324.13 L281.7 322.62 L281.9 321.11 L282.09 319.61 L282.29 318.1 L282.48 316.59 L282.68 315.08 L282.87 313.57 L283.06 312.07 L283.25 310.56 L283.44 309.05 L283.62 307.54 L283.81 306.04 L283.99 304.53 L284.18 303.02 L284.36 301.51 L284.54 300.01 L284.72 298.5 L284.9 296.99 L285.08 295.49 L285.25 293.98 L285.43 292.47 L285.6 290.96 L285.78 289.46 L285.95 287.95 L286.12 286.44 L286.29 284.94 L286.46 283.43 L286.63 281.92 L286.8 280.42 L286.97 278.91 L287.14 277.41 L287.31 275.9 L287.48 274.39 L287.64 272.89 L287.81 271.38 L287.97 269.88 L288.14 268.37 L288.3 266.86 L288.47 265.36 L288.63 263.85 L288.8 262.35 L288.96 260.84 L289.12 259.34 L289.29 257.83 L289.45 256.33 L289.61 254.82 L289.78 253.32 L289.94 251.81 L290.1 250.31 L290.27 248.8 L290.43 247.3 L290.59 245.8 L290.76 244.29 L290.92 242.79 L291.09 241.29 L291.25 239.78 L291.41 238.28 L291.58 236.77 L291.74 235.27 L291.91 233.77 L292.08 232.27 L292.24 230.76 L292.41 229.26 L292.58 227.76 L292.74 226.25 L292.91 224.75 L293.08 223.25 L293.25 221.75 L293.42 220.25 L293.59 218.74 L293.77 217.24 L293.94 215.74 L294.11 214.24 L294.29 212.74 L294.46 211.24 L294.64 209.74 L294.81 208.24 L294.99 206.74 L295.17 205.24 L295.35 203.74 L295.53 202.24 L295.72 200.74 L295.9 199.24 L296.08 197.74 L296.27 196.24 L296.46 194.74 L296.65 193.24 L296.84 191.74 L297.03 190.24 L297.22 188.74 L297.41 187.24 L297.61 185.75 L297.81 184.25 L298.01 182.75 L298.21 181.25 L298.41 179.76 L298.61 178.26 L298.82 176.76 L299.02 175.27 L299.23 173.77 L299.44 172.27 L299.65 170.78 L299.87 169.28 L300.08 167.78 L300.3 166.29 L300.52 164.79 L300.74 163.3 L300.97 161.8 L301.19 160.31 L301.42 158.81 L301.65 157.32 L301.88 155.83 L302.12 154.33 L302.35 152.84 L302.59 151.34 L302.83 149.85 L303.08 148.36 L303.32 146.87 L303.57 145.37 L303.82 143.88 L304.07 142.39 L304.33 140.9 L304.59 139.41 L304.85 137.91 L305.11 136.42 L305.38 134.93 L305.64 133.44 L305.91 131.95 L306.19 130.46 L306.46 128.97 L306.74 127.48 L307.03 125.99 L307.31 124.5 L307.6 123.01 L307.89 121.53 L308.18 120.04 L308.48 118.55 L308.78 117.06 L309.08 115.57 L309.39 114.09 L309.7 112.6 L310.01 111.11 L310.32 109.63 L310.64 108.14 L310.96 106.65 L311.29 105.17 L311.62 103.68 L311.95 102.2 L312.28 100.71 L312.62 99.23 L312.97 97.74 L313.31 96.26 L313.66 94.77 L314.01 93.29 L314.37 91.81 L314.73 90.32 L315.09 88.84 L315.46 87.36 L315.83 85.88 L316.21 84.4 L316.58 82.91 L316.97 81.43 L317.36 79.95 L317.75 78.48 L318.16 77.01 L318.58 75.54 L319.01 74.08 L319.45 72.63 L319.91 71.18 L320.39 69.75 L320.89 68.33 L321.41 66.92 L321.95 65.52 L322.52 64.14 L323.11 62.77 L323.73 61.42 L324.39 60.08 L325.07 58.77 L325.78 57.48 L326.53 56.2 L327.32 54.95 L328.15 53.73 L329.01 52.53 L329.92 51.35 L330.87 50.21 L331.86 49.1 L332.9 48.02 L333.99 46.99 L335.12 45.99 L336.31 45.05 L337.55 44.15 L338.84 43.3 L340.18 42.52 L341.58 41.78 L343.04 41.12 L344.56 40.51" stroke="#1f1f90" stroke-width="1.7"/>
</g>
<path d="M73.34 344.6L73.34 340.1 M73.34 25.4L73.34 29.9 M95.97 344.6L95.97 335.8 M95.97 25.4L95.97 34.2 M118.61 344.6L118.61 340.1 M118.61 25.4L118.61 29.9 M141.25 344.6L141.25 335.8 M141.25 25.4L141.25 34.2 M163.89 344.6L163.89 340.1 M163.89 25.4L163.89 29.9 M186.52 344.6L186.52 335.8 M186.52 25.4L186.52 34.2 M209.16 344.6L209.16 340.1 M209.16 25.4L209.16 29.9 M231.8 344.6L231.8 335.8 M231.8 25.4L231.8 34.2 M254.44 344.6L254.44 340.1 M254.44 25.4L254.44 29.9 M299.04 344.6L299.04 340.1 M299.04 25.4L299.04 29.9 M321.67 344.6L321.67 335.8 M321.67 25.4L321.67 34.2 M344.31 344.6L344.31 340.1 M344.31 25.4L344.31 29.9 M366.95 344.6L366.95 335.8 M366.95 25.4L366.95 34.2 M389.59 344.6L389.59 340.1 M389.59 25.4L389.59 29.9 M412.22 344.6L412.22 335.8 M412.22 25.4L412.22 34.2 M434.86 344.6L434.86 340.1 M434.86 25.4L434.86 29.9 M457.5 344.6L457.5 335.8 M457.5 25.4L457.5 34.2 M480.14 344.6L480.14 340.1 M480.14 25.4L480.14 29.9 M50.7 304.65L55.2 304.65 M276.4 304.65L271.9 304.65 M276.4 304.65L280.9 304.65 M502.2 304.65L497.7 304.65 M50.7 264.7L59.5 264.7 M276.4 264.7L267.6 264.7 M276.4 264.7L285.2 264.7 M502.2 264.7L493.4 264.7 M50.7 224.75L55.2 224.75 M276.4 224.75L271.9 224.75 M276.4 224.75L280.9 224.75 M502.2 224.75L497.7 224.75 M50.7 184.8L59.5 184.8 M276.4 184.8L267.6 184.8 M276.4 184.8L285.2 184.8 M502.2 184.8L493.4 184.8 M50.7 144.85L55.2 144.85 M276.4 144.85L271.9 144.85 M276.4 144.85L280.9 144.85 M502.2 144.85L497.7 144.85 M50.7 104.9L59.5 104.9 M276.4 104.9L267.6 104.9 M276.4 104.9L285.2 104.9 M502.2 104.9L493.4 104.9 M50.7 64.95L55.2 64.95 M276.4 64.95L271.9 64.95 M276.4 64.95L280.9 64.95 M502.2 64.95L497.7 64.95" stroke="#000" stroke-width="2" fill="none"/>
<path d="M50.7 25.4H502.2V344.6H50.7Z M276.4 25.4V344.6" stroke="#000" stroke-width="2" fill="none"/>
<line x1="52" y1="344.7" x2="61.5" y2="344.7" stroke="#ee2eee" stroke-width="1.6" opacity="0.45"/>
<line x1="277.5" y1="344.7" x2="287" y2="344.7" stroke="#2828c8" stroke-width="1.6" opacity="0.45"/>
<g font-family="Liberation Sans, Arial, sans-serif" fill="#000" stroke="#000" stroke-width="0.35">
<text x="41.3" y="350" font-size="21.3" text-anchor="end">0</text>
<text x="41.3" y="270.1" font-size="21.3" text-anchor="end">1</text>
<text x="41.3" y="190.2" font-size="21.3" text-anchor="end">2</text>
<text x="41.3" y="110.3" font-size="21.3" text-anchor="end">3</text>
<text x="41.3" y="30.4" font-size="21.3" text-anchor="end">4</text>
<text x="50.7" y="370.9" font-size="21.3" text-anchor="middle">0</text>
<text x="95.97" y="370.9" font-size="21.3" text-anchor="middle">50</text>
<text x="141.25" y="370.9" font-size="21.3" text-anchor="middle">100</text>
<text x="186.52" y="370.9" font-size="21.3" text-anchor="middle">150</text>
<text x="231.8" y="370.9" font-size="21.3" text-anchor="middle">200</text>
<text x="276.4" y="370.9" font-size="21.3" text-anchor="middle">0</text>
<text x="321.67" y="370.9" font-size="21.3" text-anchor="middle">50</text>
<text x="366.95" y="370.9" font-size="21.3" text-anchor="middle">100</text>
<text x="412.22" y="370.9" font-size="21.3" text-anchor="middle">150</text>
<text x="457.5" y="370.9" font-size="21.3" text-anchor="middle">200</text>
<text x="502.77" y="370.9" font-size="21.3" text-anchor="middle">250</text>
<text x="163.5" y="397.4" font-size="22.2" text-anchor="middle">current (mA)</text>
<text x="389.9" y="397.4" font-size="22.2" text-anchor="middle">current (mA)</text>
<text transform="translate(16.2 187.1) rotate(-90) scale(1.08 1)" font-size="20.1" text-anchor="middle">power (mW)</text>
<text x="199.2" y="227.4" font-size="18.9" text-anchor="end">1.5</text>
<line x1="204.2" y1="220.8" x2="249.2" y2="220.8" stroke="#7a1f2d" stroke-width="2"/>
<text x="199.2" y="251.45" font-size="18.9" text-anchor="end">2</text>
<line x1="204.2" y1="244.85" x2="249.2" y2="244.85" stroke="#8a2a9a" stroke-width="2"/>
<text x="199.2" y="275.5" font-size="18.9" text-anchor="end">5</text>
<line x1="204.2" y1="268.9" x2="249.2" y2="268.9" stroke="#e0262e" stroke-width="2"/>
<text x="199.2" y="299.55" font-size="18.9" text-anchor="end">10</text>
<line x1="204.2" y1="292.95" x2="249.2" y2="292.95" stroke="#ee8f2c" stroke-width="2"/>
<text x="199.2" y="323.6" font-size="18.9" text-anchor="end">20</text>
<line x1="204.2" y1="317" x2="249.2" y2="317" stroke="#ee2eee" stroke-width="2"/>
<text transform="translate(161.8 271.5) rotate(-90) scale(1.075 1)" font-size="18.3" text-anchor="middle">diameter (µm)</text>
<text x="436.2" y="209.7" font-size="18.9" text-anchor="end">1.5</text>
<line x1="441.4" y1="203.1" x2="486.2" y2="203.1" stroke="#1f1f90" stroke-width="2"/>
<text x="436.2" y="233.7" font-size="18.9" text-anchor="end">2</text>
<line x1="441.4" y1="227.1" x2="486.2" y2="227.1" stroke="#2828c8" stroke-width="2"/>
<text x="436.2" y="257.7" font-size="18.9" text-anchor="end">5</text>
<line x1="441.4" y1="251.1" x2="486.2" y2="251.1" stroke="#1f801f" stroke-width="2"/>
<text x="436.2" y="281.7" font-size="18.9" text-anchor="end">10</text>
<line x1="441.4" y1="275.1" x2="486.2" y2="275.1" stroke="#33dd33" stroke-width="2"/>
<text x="436.2" y="305.7" font-size="18.9" text-anchor="end">20</text>
<line x1="441.4" y1="299.1" x2="486.2" y2="299.1" stroke="#eded28" stroke-width="2"/>
<text x="436.75" y="330.14" font-size="18.9" text-anchor="end">ref.</text>
<line x1="442.5" y1="323.1" x2="487.3" y2="323.1" stroke="#888888" stroke-width="2"/>
<text transform="translate(396.4 257.8) rotate(-90) scale(1.075 1)" font-size="18.3" text-anchor="middle">diameter (µm)</text>
<text transform="translate(384.6 54.6) scale(1.15 1)" font-size="19" font-family="Liberation Serif, serif">λ</text>
<text x="401.2" y="54.4" font-size="21.5">= 233nm</text>
</g>
<text x="143" y="15" font-family="Liberation Sans, Arial, sans-serif" font-size="19.3" fill="#dd2030" stroke="#dd2030" stroke-width="0.3">SiN<tspan font-size="10.5" dx="0.7" dy="7.6">x</tspan></text>
<text x="368" y="15" font-family="Liberation Sans, Arial, sans-serif" font-size="19.3" fill="#2a2acc" stroke="#2a2acc" stroke-width="0.3">SiO<tspan font-size="10" dy="7.2">2</tspan></text>
</svg>
</body></html>
